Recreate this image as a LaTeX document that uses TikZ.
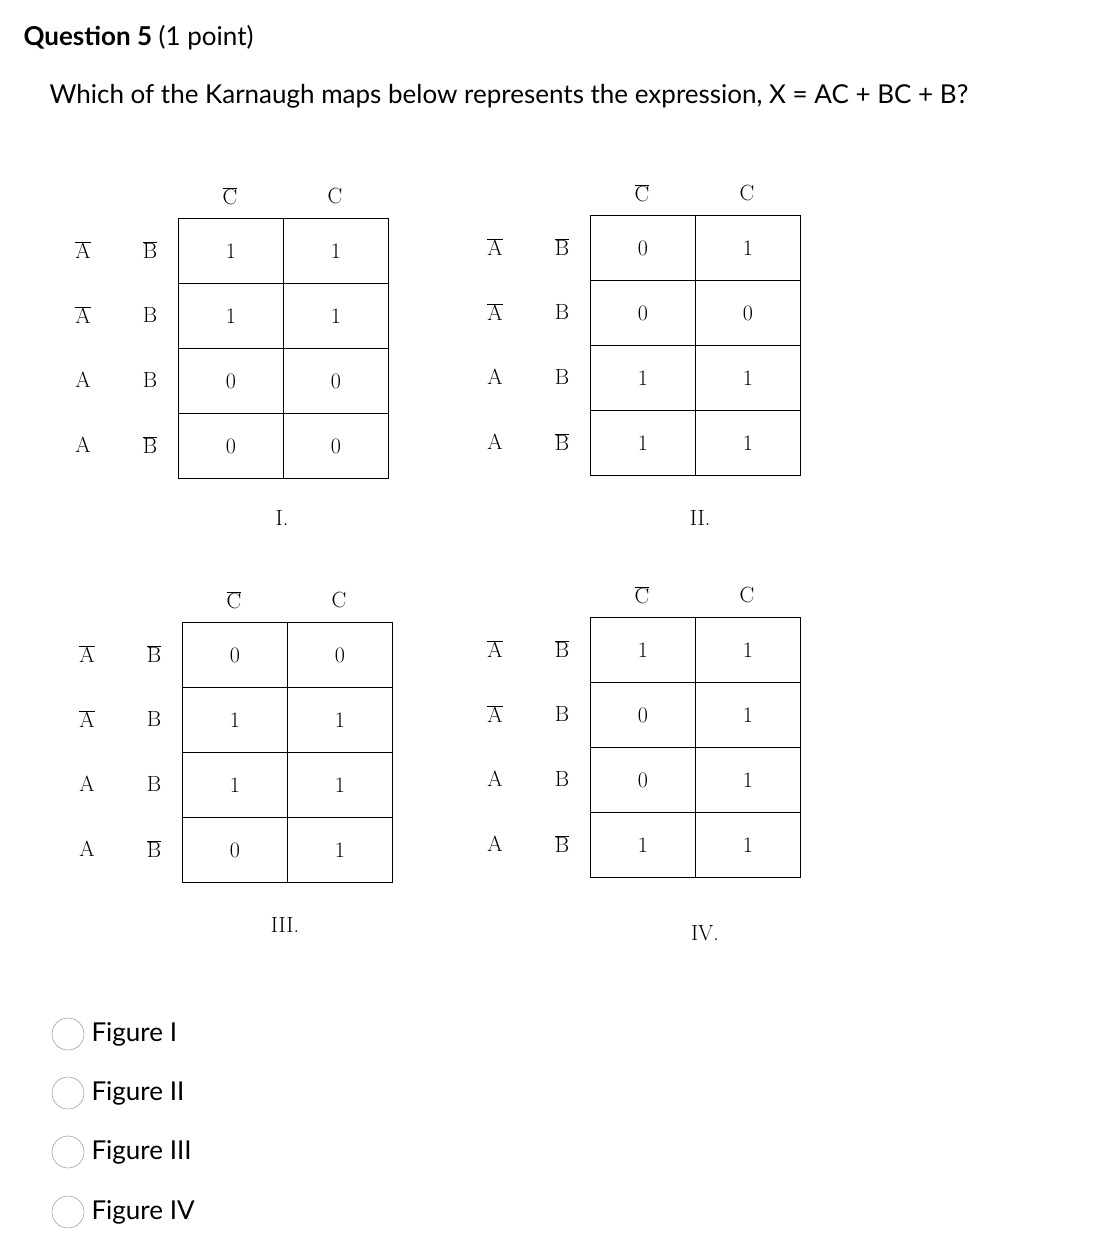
\documentclass[tikz,border=0pt]{standalone}
\usepackage{fontspec}
\setsansfont{Lato}
\tikzset{
  hdr/.style={font=\fontsize{22}{24}\selectfont},
  cell/.style={draw,thick,minimum width=105pt,minimum height=65pt,anchor=north west,font=\fontsize{22}{24}\selectfont,inner sep=0pt},
  radio/.style={draw=gray,circle,minimum size=32pt,inner sep=0pt},
  opt/.style={anchor=west,font=\sffamily\fontsize{26}{30}\selectfont},
}
\begin{document}
\begin{tikzpicture}[x=1pt,y=-1pt]
\def\kmap#1#2#3#4{%
  \scope[shift={(#2,#3)}]
    \node[hdr] (#1-cb) at (52,-22) {$\overline{\mathrm{C}}$};
    \node[hdr] (#1-c) at (157,-22) {C};
    \foreach \r/\la [count=\i from 0] in {{$\overline{\mathrm{A}}$}/{$\overline{\mathrm{B}}$},{$\overline{\mathrm{A}}$}/B,A/B,A/{$\overline{\mathrm{B}}$}}{
      \node[hdr] (#1-a\i) at (-95,{32+65*\i}) {\r};
      \node[hdr] (#1-b\i) at (-28,{32+65*\i}) {\la};
    }
    \foreach \v [count=\k from 0] in {#4}{
      \pgfmathtruncatemacro{\rr}{div(\k,2)}
      \pgfmathtruncatemacro{\cc}{mod(\k,2)}
      \node[cell] (#1-v\k) at ({\cc*105},{\rr*65}) {\v};
    }
  \endscope}
\useasboundingbox (0,0) rectangle (1108,1256);
\node[anchor=west,font=\sffamily\fontsize{26}{30}\selectfont] (title) at (20,38) {\textbf{Question 5} (1 point)};
\node[anchor=west,font=\sffamily\fontsize{26}{30}\selectfont] (q) at (46,96) {Which of the Karnaugh maps below represents the expression, X = AC + BC + B?};
\kmap{m1}{178}{218}{1,1,1,1,0,0,0,0}
\kmap{m2}{590}{215}{0,1,0,0,1,1,1,1}
\kmap{m3}{182}{622}{0,0,1,1,1,1,0,1}
\kmap{m4}{590}{617}{1,1,0,1,0,1,1,1}
\node[hdr] (l1) at (282,518) {I.};
\node[hdr] (l2) at (700,518) {II.};
\node[hdr] (l3) at (285,925) {III.};
\node[hdr] (l4) at (705,933) {IV.};
\foreach \t/\y [count=\i] in {I/1034,II/1093,III/1152,IV/1212}{
  \node[radio] (r\i) at (68,\y) {};
  \node[opt] (o\i) at (88,\y) {Figure \t};
}
\end{tikzpicture}
\end{document}
